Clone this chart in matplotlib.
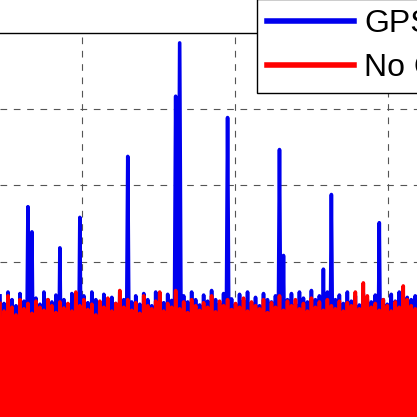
import matplotlib
matplotlib.use("Agg")
import matplotlib.pyplot as plt
import numpy as np

blue_top = [0.55,0.45,0.6,0.5,0.42,0.58,0.48,1.72,1.39,0.52,0.44,0.6,0.5,0.47,0.56,1.18,0.5,0.43,0.58,0.49,1.58,0.55,0.46,0.6,0.5,0.41,0.57,0.48,0.53,0.45,0.6,0.5,2.38,0.47,0.55,0.44,0.58,0.5,0.42,0.6,0.52,0.46,0.57,0.49,3.17,3.87,0.55,0.47,0.6,0.5,0.43,0.56,0.48,0.62,0.5,0.45,0.58,2.89,0.51,0.44,0.57,0.49,0.6,0.46,0.53,0.42,0.58,0.5,0.47,0.55,2.47,1.08,0.5,0.58,0.44,0.6,0.52,0.47,0.62,0.5,0.55,0.9,0.6,1.88,0.5,0.56,0.45,0.6,0.48,0.55,0.43,0.58,0.5,0.47,0.56,1.51,0.5,0.44,0.57,0.48,0.6,0.45,0.53,0.5,0.55]
blue_low = [-1.5]*len(blue_top)
red_top = [0.45,0.35,0.55,0.4,0.3,0.5,0.38,0.45,0.32,0.48,0.4,0.36,0.5,0.42,0.33,0.47,0.39,0.45,0.35,0.6,0.42,0.5,0.37,0.44,0.3,0.48,0.4,0.52,0.35,0.45,0.62,0.4,0.5,0.36,0.46,0.32,0.55,0.42,0.38,0.48,0.6,0.35,0.45,0.4,0.62,0.38,0.47,0.33,0.5,0.42,0.36,0.46,0.4,0.55,0.34,0.48,0.42,0.5,0.37,0.45,0.4,0.52,0.35,0.47,0.42,0.38,0.5,0.33,0.46,0.4,0.55,0.36,0.48,0.42,0.5,0.38,0.45,0.35,0.52,0.4,0.47,0.36,0.5,0.42,0.38,0.48,0.35,0.46,0.42,0.6,0.38,0.72,0.55,0.4,0.45,0.36,0.5,0.42,0.35,0.47,0.4,0.68,0.5,0.42,0.38]
red_low = [-1.5]*len(red_top)

n = len(blue_top)
x_start, x_step = 0.464, 0.0261
fig = plt.figure(figsize=(4.17, 4.17), dpi=100)
ax = fig.add_axes([0, 0, 1, (417-33)/417])

def zig(top, low):
    xs, ys = [], []
    for i, (t, l) in enumerate(zip(top, low)):
        xi = x_start + i * x_step
        xs += [xi, xi + x_step/2]
        ys += [t, l]
    return xs, ys

bx, by = zig(blue_top, blue_low)
rx, ry = zig(red_top, red_low)
ax.plot(bx, by, color='#0000ee', lw=2.6, label='GPS')
ax.plot(rx, ry, color='#ff0000', lw=2.6, label='No GPS')
ax.set_xlim(0.464, 3.19)
ax.set_ylim(-1.04, 4)
ax.set_xticks([1, 2, 3])
ax.set_yticks([1, 2, 3])
ax.grid(True, color='#555555', linestyle=(0, (6, 6)), lw=0.8)
ax.tick_params(length=0, labelbottom=False, labelleft=False)
for s in ['left', 'right', 'bottom']:
    ax.spines[s].set_visible(False)
ax.spines['top'].set_linewidth(1.0)
leg = ax.legend(loc='upper left', bbox_to_anchor=(241/417, 1.04), bbox_transform=fig.transFigure,
                prop={'family': 'Liberation Sans', 'size': 23}, frameon=True, fancybox=False,
                edgecolor='black', framealpha=1,
                handlelength=2.75, handletextpad=0.3, borderpad=0.3, labelspacing=0.45)
leg.get_frame().set_linewidth(1.0)
for l in leg.get_lines():
    l.set_linewidth(4)
fig.savefig('out.png', dpi=100)
